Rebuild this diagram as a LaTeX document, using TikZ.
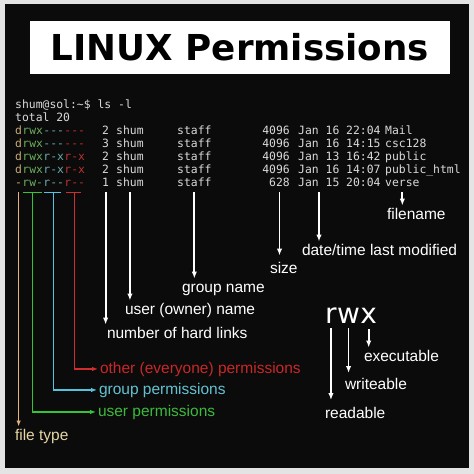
\documentclass[tikz,border=0pt]{standalone}
\usepackage{fontspec}
\setmainfont{Liberation Sans}
\setmonofont{DejaVu Sans Mono}
\newfontfamily\headfont{DejaVu Sans}
\usetikzlibrary{positioning,arrows.meta}

\definecolor{bg}{HTML}{0B0B0B}
\definecolor{rim}{HTML}{E4E4E4}
\definecolor{termtxt}{HTML}{DADADA}
\definecolor{ftype}{HTML}{C8AC74}
\definecolor{uperm}{HTML}{6AAE5C}
\definecolor{gperm}{HTML}{6AAAAA}
\definecolor{operm}{HTML}{B83232}
\definecolor{fline}{HTML}{E6B27E}
\definecolor{uline}{HTML}{34C434}
\definecolor{gline}{HTML}{52C4DC}
\definecolor{oline}{HTML}{D02E2E}
\definecolor{ftext}{HTML}{E6D6A6}
\definecolor{utext}{HTML}{3CBA3C}
\definecolor{gtext}{HTML}{62C2D2}
\definecolor{otext}{HTML}{C82828}

\tikzset{
  term/.style={anchor=west, inner sep=0pt, text=termtxt,
    font=\ttfamily\fontsize{11.4}{13}\selectfont, text height=8.5pt, text depth=2.5pt},
  lbl/.style={anchor=base west, inner sep=0pt, outer sep=2pt, text=white,
    font=\fontsize{15.5}{18}\selectfont, text height=11.5pt, text depth=3.4pt},
  bigletter/.style={inner sep=0pt, text=white, font=\headfont\fontsize{28}{30}\selectfont,
    text height=15pt, text depth=0pt},
  arr/.style={white, line width=1.8pt, -{Latex[length=7pt,width=5.5pt]}},
  permline/.style={line width=1.4pt},
  permarr/.style={permline, -{Latex[length=6pt,width=4.5pt]}},
}

\begin{document}
\begin{tikzpicture}[x=1pt,y=-1pt]
        \useasboundingbox (0,0) rectangle (474,474);
        \fill[rim] (0,0) rectangle (474,474);
        \fill[bg] (5,4) rectangle (469,468);
        % Title
        \node[fill=white, minimum width=420pt, minimum height=53pt, inner sep=0pt,
          font=\headfont\bfseries\fontsize{35.7}{40}\selectfont] (title) at (240,47.5) {LINUX Permissions};
        % Prompt
        \node[term] (prompt) at (15,105) {shum@sol:\textasciitilde\$ ls -l};
        \node[term] (total) at (15,118) {total 20};
        % Listing
        \foreach \ty/\us/\gr/\ot/\nl/\sz/\dt/\fn [count=\i] in {
            d/rwx/---/---/2/4096/Jan 16 22:04/Mail,
            d/rwx/---/---/3/4096/Jan 16 14:15/csc128,
            d/rwx/r-x/r-x/2/4096/Jan 13 16:42/public,
            d/rwx/r-x/r-x/2/4096/Jan 16 14:07/public\_html,
            -/rw-/r--/r--/1/628/Jan 15 20:04/verse}{
          \pgfmathsetmacro\ry{118+13*\i}
          \node[term, text=ftype] (t\i) at (15,\ry) {\ty};
          \node[term, text=uperm, right=0pt of t\i] (u\i) {\us};
          \node[term, text=gperm, right=0pt of u\i] (g\i) {\gr};
          \node[term, text=operm, right=0pt of g\i] (o\i) {\ot};
          \node[term] (n\i) at (102,\ry) {\nl};
          \node[term] (own\i) at (116,\ry) {shum};
          \node[term] (grp\i) at (177,\ry) {staff};
          \node[term, anchor=east] (sz\i) at (290,\ry) {\sz};
          \node[term] (dt\i) at (298,\ry) {\dt};
          \node[term] (fn\i) at (385,\ry) {\fn};
        }
        % Column labels
        \node[lbl] (filename) at (385,219) {filename};
        \node[lbl] (date) at (300,255) {date/time last modified};
        \node[lbl] (size) at (268,273) {size};
        \node[lbl] (grpname) at (180,292) {group name};
        \node[lbl] (owner) at (123,314) {user (owner) name};
        \node[lbl] (links) at (105,338) {number of hard links};
        \coordinate (dtx) at ([xshift=21pt]dt5.south west);
        \draw[arr, shorten <=3.5pt] (fn5.south) -- (fn5.south |- filename.north);
        \draw[arr, shorten <=3.5pt] (dtx) -- (dtx |- date.north);
        \draw[arr, shorten <=3.5pt, shorten >=4pt] (sz5.south) -- (sz5.south |- size.north);
        \draw[arr, shorten <=3.5pt] (grp5.south) -- (grp5.south |- grpname.north);
        \draw[arr, shorten <=3.5pt] (own5.south) -- (own5.south |- owner.north);
        \draw[arr, shorten <=3.5pt] (n5.south) -- (n5.south |- links.north);
        % Permission labels
        \node[lbl, text=otext] (otherp) at (98,373) {other (everyone) permissions};
        \node[lbl, text=gtext] (groupp) at (97,394) {group permissions};
        \node[lbl, text=utext] (userp) at (96,416) {user permissions};
        \node[lbl, text=ftext] (filetype) at (13,440) {file type};
        \draw[permline, oline] ([xshift=2pt,yshift=-3.5pt]o5.south west) -- ([xshift=-4pt,yshift=-3.5pt]o5.south east);
        \draw[permline, gline] ([xshift=1pt,yshift=-3.5pt]g5.south west) -- ([xshift=-3pt,yshift=-3.5pt]g5.south east);
        \draw[permline, uline] ([xshift=1pt,yshift=-3.5pt]u5.south west) -- ([xshift=-1pt,yshift=-3.5pt]u5.south east);
        \draw[permarr, oline] ([yshift=-3.5pt]o5.south) |- (otherp.west);
        \draw[permarr, gline] ([yshift=-3.5pt]g5.south) |- (groupp.west);
        \draw[permarr, uline] ([yshift=-3.5pt]u5.south) |- (userp.west);
        \draw[permarr, fline] ([yshift=-3.5pt]t5.south) -- (t5.south |- filetype.north);
        % rwx
        \node[bigletter, anchor=base west] (lr) at (325,323) {r};
        \node[bigletter, right=0pt of lr] (lw) {w};
        \node[bigletter, right=0pt of lw] (lx) {x};
        \node[lbl] (exec) at (362,361) {executable};
        \node[lbl] (write) at (343,389) {writeable};
        \node[lbl] (read) at (323,418) {readable};
        \draw[arr, shorten <=6pt] (lx.south) -- (lx.south |- exec.north);
        \draw[arr, shorten <=5pt, shorten >=2.5pt] (lw.south) -- (lw.south |- write.north);
        \draw[arr, shorten <=5pt, shorten >=4.5pt] (lr.south) -- (lr.south |- read.north);
\end{tikzpicture}
\end{document}
